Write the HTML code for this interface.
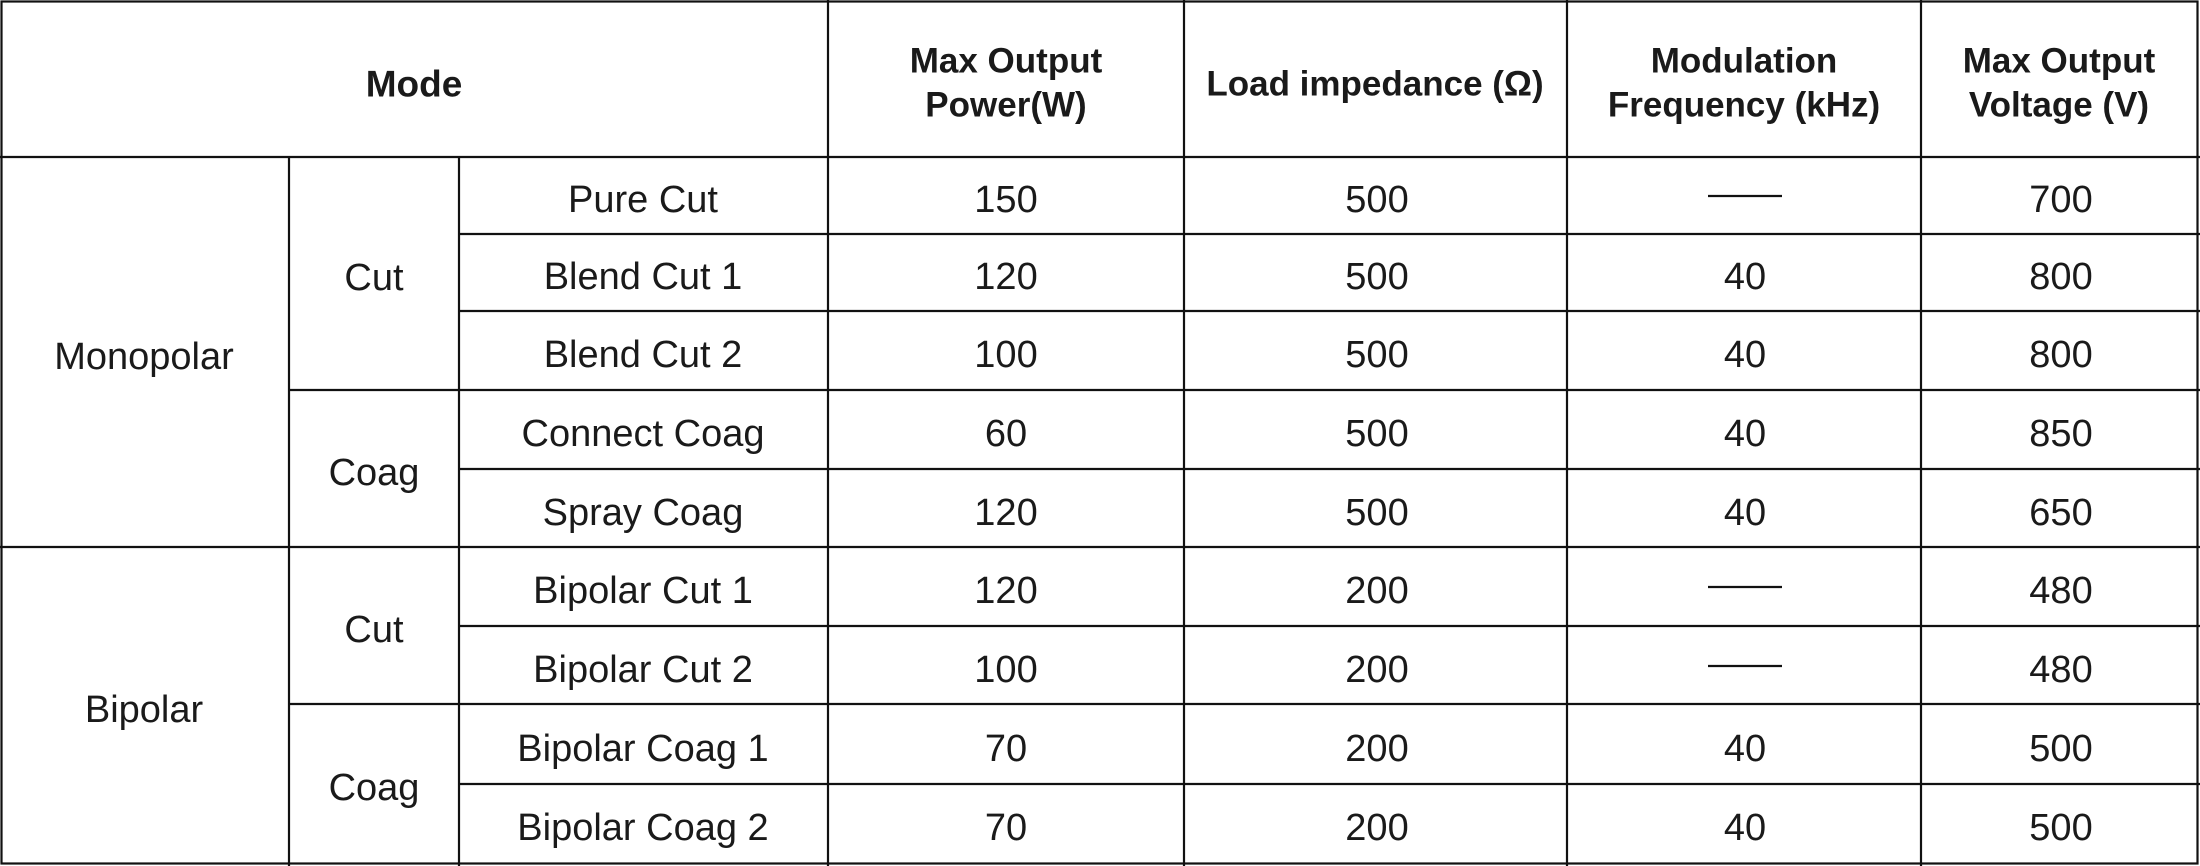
<!DOCTYPE html>
<html><head><meta charset="utf-8"><style>
html,body{margin:0;padding:0;background:#fff;}
svg{display:block;}
text{font-family:"Liberation Sans","DejaVu Sans",sans-serif;fill:#1a1a1a;}
.h{font-weight:bold;font-size:35px;}
.d{font-size:38px;}
</style></head><body>
<svg width="2200" height="866" viewBox="0 0 2200 866" xmlns="http://www.w3.org/2000/svg">
<g stroke="#111" stroke-width="2.2" fill="none">
<rect x="1.5" y="1.5" width="2196" height="862"/>
<line x1="0" y1="157" x2="2200" y2="157"/>
<line x1="0" y1="547" x2="2200" y2="547"/>
<line x1="289" y1="390" x2="2200" y2="390"/>
<line x1="289" y1="704" x2="2200" y2="704"/>
<line x1="459" y1="234" x2="2200" y2="234"/>
<line x1="459" y1="311" x2="2200" y2="311"/>
<line x1="459" y1="469" x2="2200" y2="469"/>
<line x1="459" y1="626" x2="2200" y2="626"/>
<line x1="459" y1="784" x2="2200" y2="784"/>
<line x1="289" y1="157" x2="289" y2="866"/>
<line x1="459" y1="157" x2="459" y2="866"/>
<line x1="828" y1="0" x2="828" y2="866"/>
<line x1="1184" y1="0" x2="1184" y2="866"/>
<line x1="1567" y1="0" x2="1567" y2="866"/>
<line x1="1921" y1="0" x2="1921" y2="866"/>
<line x1="1708" y1="196" x2="1782" y2="196"/>
<line x1="1708" y1="587" x2="1782" y2="587"/>
<line x1="1708" y1="666" x2="1782" y2="666"/>
</g>
<g text-anchor="middle" dominant-baseline="central">
<text class="h" x="414" y="84" style="font-size:37px">Mode</text>
<text class="h" x="1006" y="61">Max Output</text><text class="h" x="1006" y="105">Power(W)</text>
<text class="h" x="1375" y="84">Load impedance (Ω)</text>
<text class="h" x="1744" y="61">Modulation</text><text class="h" x="1744" y="105">Frequency (kHz)</text>
<text class="h" x="2059" y="61">Max Output</text><text class="h" x="2059" y="105">Voltage (V)</text>

<text class="d" x="144" y="357">Monopolar</text>
<text class="d" x="144" y="710">Bipolar</text>
<text class="d" x="374" y="278">Cut</text>
<text class="d" x="374" y="473">Coag</text>
<text class="d" x="374" y="630">Cut</text>
<text class="d" x="374" y="788">Coag</text>

<text class="d" x="643" y="200">Pure Cut</text>
<text class="d" x="643" y="277">Blend Cut 1</text>
<text class="d" x="643" y="355">Blend Cut 2</text>
<text class="d" x="643" y="434">Connect Coag</text>
<text class="d" x="643" y="513">Spray Coag</text>
<text class="d" x="643" y="591">Bipolar Cut 1</text>
<text class="d" x="643" y="670">Bipolar Cut 2</text>
<text class="d" x="643" y="749">Bipolar Coag 1</text>
<text class="d" x="643" y="828">Bipolar Coag 2</text>

<text class="d" x="1006" y="200">150</text>
<text class="d" x="1006" y="277">120</text>
<text class="d" x="1006" y="355">100</text>
<text class="d" x="1006" y="434">60</text>
<text class="d" x="1006" y="513">120</text>
<text class="d" x="1006" y="591">120</text>
<text class="d" x="1006" y="670">100</text>
<text class="d" x="1006" y="749">70</text>
<text class="d" x="1006" y="828">70</text>

<text class="d" x="1377" y="200">500</text>
<text class="d" x="1377" y="277">500</text>
<text class="d" x="1377" y="355">500</text>
<text class="d" x="1377" y="434">500</text>
<text class="d" x="1377" y="513">500</text>
<text class="d" x="1377" y="591">200</text>
<text class="d" x="1377" y="670">200</text>
<text class="d" x="1377" y="749">200</text>
<text class="d" x="1377" y="828">200</text>

<text class="d" x="1745" y="277">40</text>
<text class="d" x="1745" y="355">40</text>
<text class="d" x="1745" y="434">40</text>
<text class="d" x="1745" y="513">40</text>
<text class="d" x="1745" y="749">40</text>
<text class="d" x="1745" y="828">40</text>

<text class="d" x="2061" y="200">700</text>
<text class="d" x="2061" y="277">800</text>
<text class="d" x="2061" y="355">800</text>
<text class="d" x="2061" y="434">850</text>
<text class="d" x="2061" y="513">650</text>
<text class="d" x="2061" y="591">480</text>
<text class="d" x="2061" y="670">480</text>
<text class="d" x="2061" y="749">500</text>
<text class="d" x="2061" y="828">500</text>
</g>
</svg>
</body></html>
